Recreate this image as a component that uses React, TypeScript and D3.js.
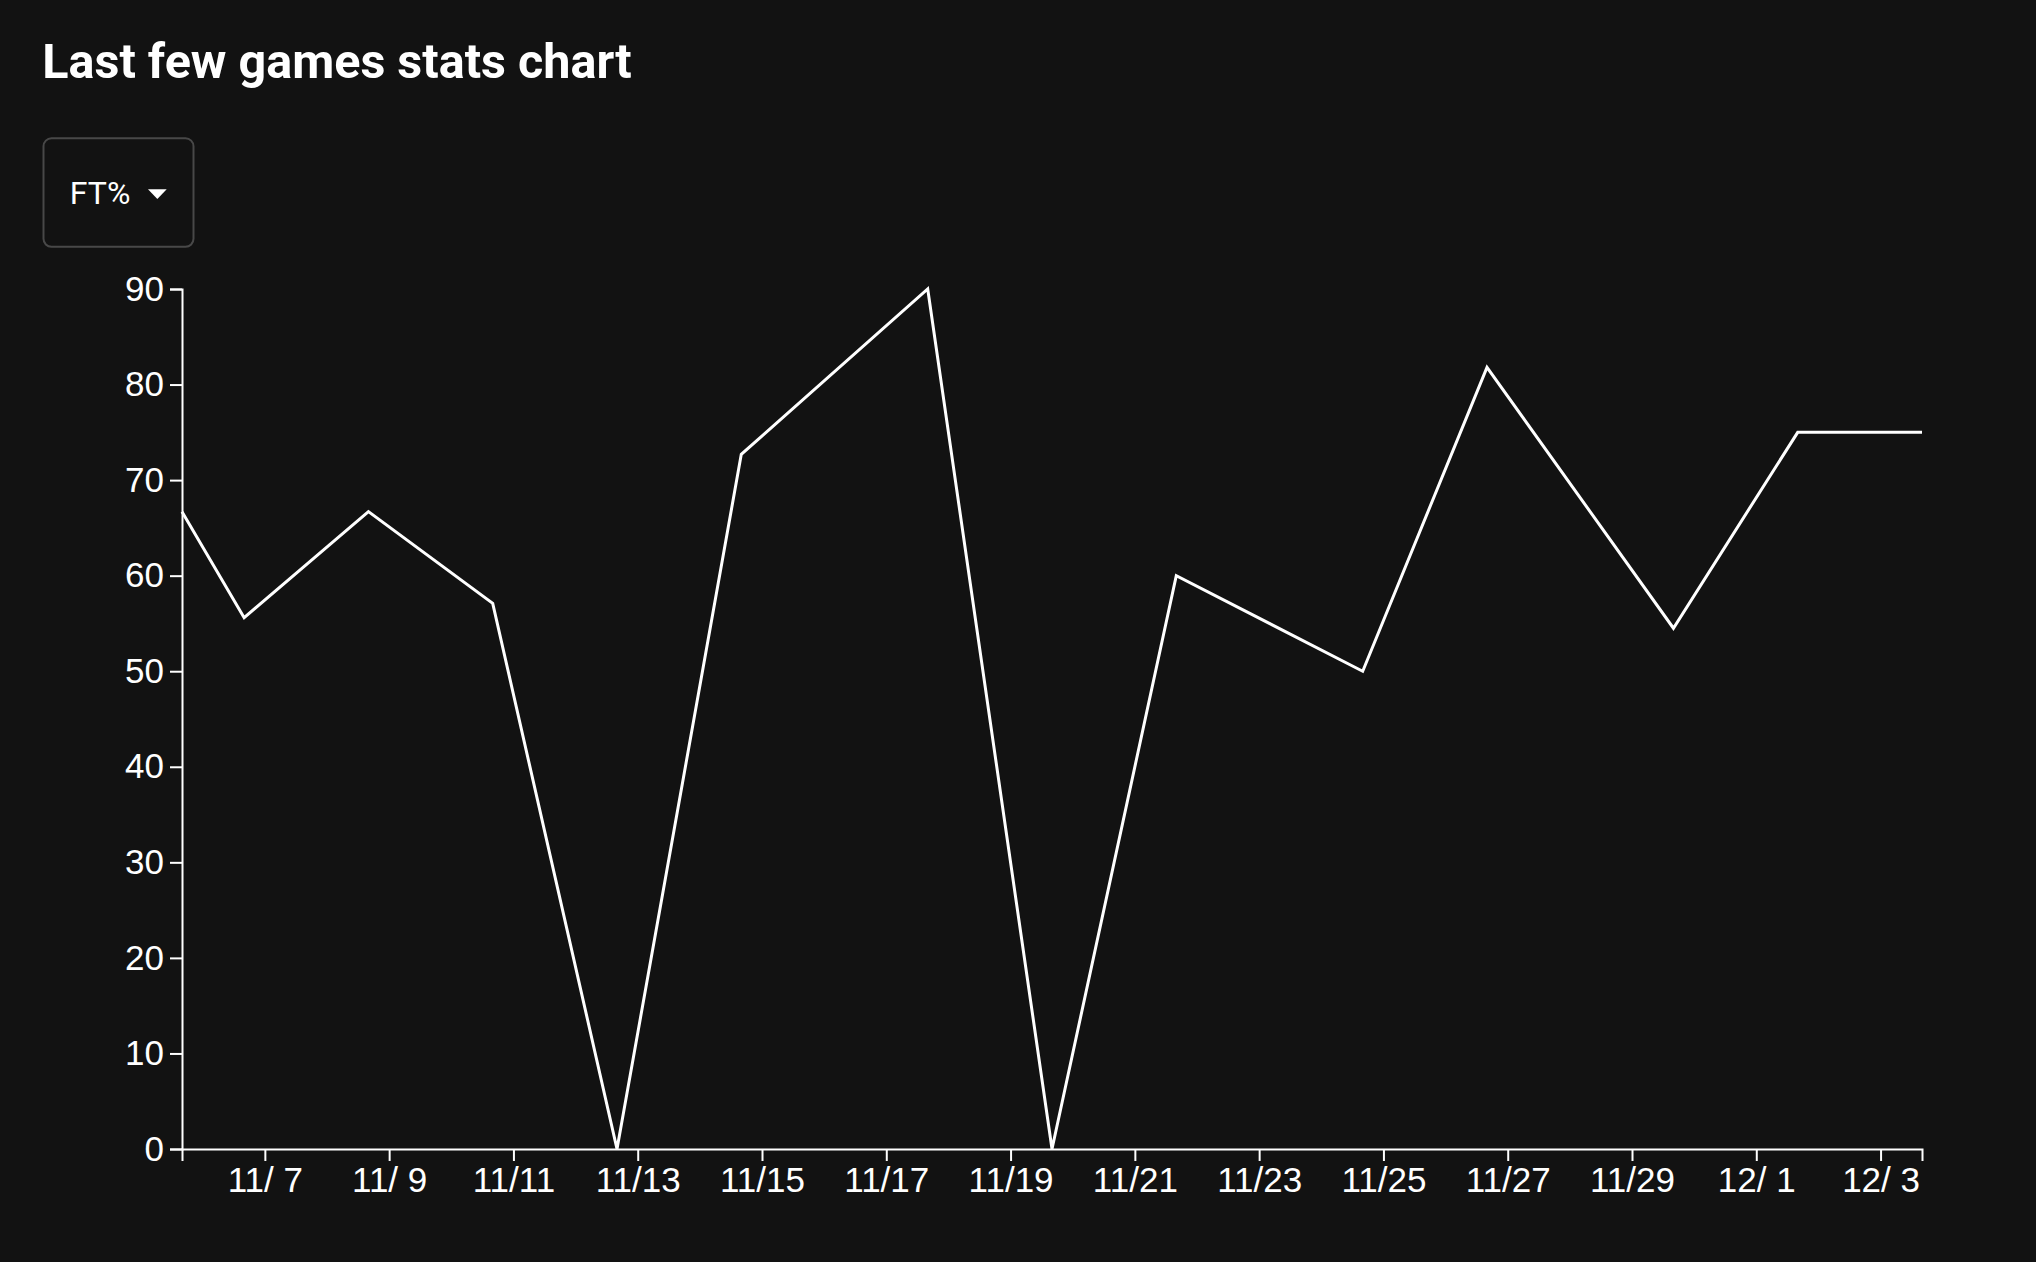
import * as d3 from "d3";
import React, { useEffect, useRef } from "react";

// last few games, free throw percentage
const gameDates = [
  "2023-11-05T16:00",
  "2023-11-06T16:00",
  "2023-11-08T16:00",
  "2023-11-10T16:00",
  "2023-11-12T16:00",
  "2023-11-14T16:00",
  "2023-11-17T16:00",
  "2023-11-19T16:00",
  "2023-11-21T16:00",
  "2023-11-24T16:00",
  "2023-11-26T16:00",
  "2023-11-29T16:00",
  "2023-12-01T16:00",
  "2023-12-03T16:00",
];
const ftPct = [66.7, 55.6, 66.7, 57.1, 0, 72.7, 90, 0, 60, 50, 81.8, 54.5, 75, 75];

const selectedStat = "FT%";
const chartTitle = "Last few games stats chart";

const width = 2036;
const height = 1262;
const margin = { top: 289, right: 114, bottom: 113, left: 182 };
const bgColor = "#121212";
const axisFont = "'Liberation Sans', Arial, sans-serif";

export default function App() {
  const svgRef = useRef<SVGSVGElement>(null);

  useEffect(() => {
    const parse = d3.timeParse("%Y-%m-%dT%H:%M");
    const data = gameDates.map((d, i) => ({ date: parse(d) as Date, value: ftPct[i] }));

    const svg = d3.select(svgRef.current);
    svg.selectAll("*").remove(); // Clear previous content

    const x = d3
      .scaleTime()
      .domain(d3.extent(data, (d) => d.date) as [Date, Date])
      .range([margin.left, width - margin.right]);

    const y = d3
      .scaleLinear()
      .domain([0, d3.max(data, (d) => d.value) as number])
      .range([height - margin.bottom, margin.top]);

    // Title
    svg
      .append("text")
      .attr("x", 42.3)
      .attr("y", 77.5)
      .attr("fill", "#ffffff")
      .attr("font-family", "Roboto, sans-serif")
      .attr("font-weight", 700)
      .attr("font-size", 48.5)
      .text(chartTitle);

    // Stat selector (outlined select look)
    const select = svg.append("g");
    select
      .append("rect")
      .attr("x", 43.5)
      .attr("y", 138.3)
      .attr("width", 150)
      .attr("height", 108.5)
      .attr("rx", 8)
      .attr("fill", "none")
      .attr("stroke", "rgba(255,255,255,0.23)")
      .attr("stroke-width", 2);
    select
      .append("text")
      .attr("x", 69.8)
      .attr("y", 204.3)
      .attr("fill", "#ffffff")
      .attr("font-family", "Roboto, sans-serif")
      .attr("font-size", 32)
      .text(selectedStat);
    select
      .append("path")
      .attr("d", "M148,189.3L166.7,189.3L157.35,199Z")
      .attr("fill", "#ffffff");

    // Axes
    const xAxis = svg
      .append("g")
      .attr("transform", `translate(0,${height - margin.bottom})`)
      .call(d3.axisBottom(x).tickSize(12).tickPadding(6).tickFormat(d3.timeFormat("%m/%e") as any));

    const yAxis = svg
      .append("g")
      .attr("transform", `translate(${margin.left},0)`)
      .call(d3.axisLeft(y).tickSize(12).tickPadding(6));

    [xAxis, yAxis].forEach((g) => {
      g.attr("color", "#ffffff").attr("font-size", 35).attr("font-family", axisFont);
      g.selectAll("path, line").attr("stroke-width", 2);
    });

    // Line
    const line = d3
      .line<{ date: Date; value: number }>()
      .x((d) => x(d.date))
      .y((d) => y(d.value));

    svg
      .append("path")
      .datum(data)
      .attr("d", line)
      .attr("fill", "none")
      .attr("stroke", "#ffffff")
      .attr("stroke-width", 3);
  }, []);

  return (
    <div style={{ position: "fixed", left: 0, top: 0, width, height, background: bgColor }}>
      <svg ref={svgRef} width={width} height={height} style={{ display: "block" }} />
    </div>
  );
}
